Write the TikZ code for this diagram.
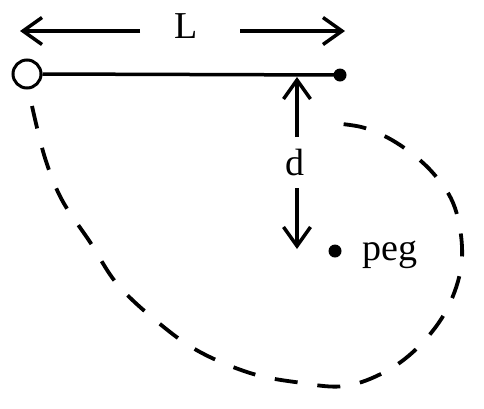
\documentclass[tikz,border=0pt]{standalone}
\usepackage{fontspec}
\setmainfont{Liberation Serif}
\usetikzlibrary{arrows.meta}
\begin{document}
\begin{tikzpicture}[x=1pt,y=-1pt,
  thickline/.style={line width=3.5pt},
  dimarrow/.style={line width=3.5pt,-{Straight Barb[length=19pt,width=27pt,line width=3.5pt]}},
  lbl/.style={font=\fontsize{38}{40}\selectfont,inner sep=0pt},
  dotnode/.style={circle,fill=black,inner sep=0pt,minimum size=13pt},
  swing/.style={line width=3.8pt,dash pattern=on 23pt off 20pt}]
\useasboundingbox (0,0) rectangle (484,408);
% rod
\node[circle,draw,line width=3pt,fill=white,minimum size=28pt,inner sep=0pt] (pivot) at (27,74) {};
\node[dotnode] (bob) at (340,75) {};
\draw[thickline] (pivot.east) -- (bob.center);
% L dimension
\node[lbl,anchor=base] (L) at (186,38) {L};
\coordinate (La) at (140,31);
\coordinate (Lb) at (20,31);
\coordinate (Lc) at (240,31);
\coordinate (Ld) at (345,31);
\draw[dimarrow] (La) -- (Lb);
\draw[dimarrow] (Lc) -- (Ld);
% d dimension
\node[lbl,anchor=base] (d) at (295,175) {d};
\coordinate (da) at (297,137);
\coordinate (db) at (297,77);
\coordinate (dc) at (297,188);
\coordinate (dd) at (297,249);
\draw[dimarrow] (da) -- (db);
\draw[dimarrow] (dc) -- (dd);
% peg
\node[dotnode] (peg) at (335,251) {};
\node[lbl,anchor=base west] (peglbl) at (362,260) {peg};
% swing path
\draw[swing] plot[smooth,tension=0.6] coordinates {(32,106) (45,158) (62,200) (90,242) (118,285) (160,324) (200,352) (250,373) (295,382) (345,386) (390,369) (425,340) (450,303) (462,258) (455,208) (433,173) (400,145) (365,128) (330,123)};
\end{tikzpicture}
\end{document}
